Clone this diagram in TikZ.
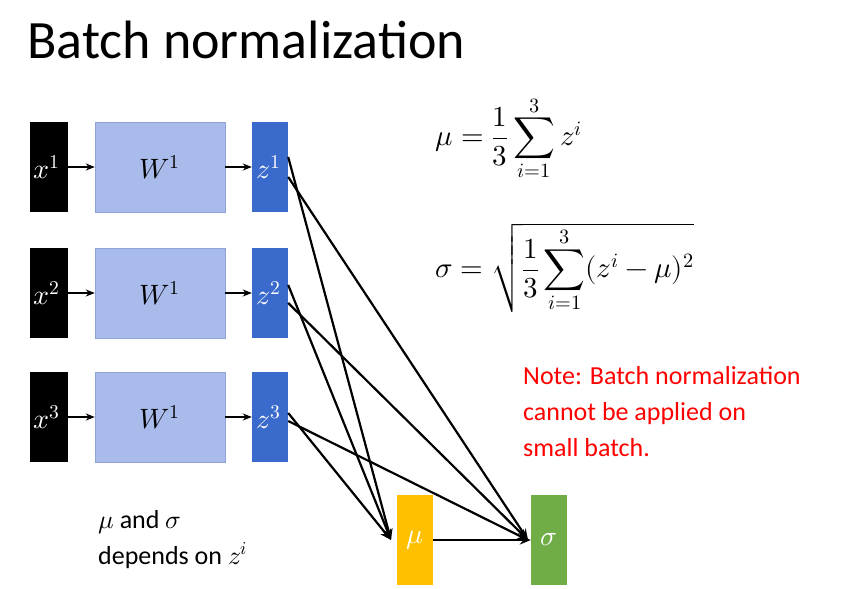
\documentclass[tikz,border=0pt]{standalone}
\usepackage{amsmath}
\usepackage{fontspec}
\setmainfont{Carlito}
\usepackage{unicode-math}
\setmathfont{Latin Modern Math}
\usetikzlibrary{arrows.meta}
\begin{document}
\begin{tikzpicture}[x=1pt,y=-1pt,
  xbox/.style={fill=black,text=white,minimum width=38pt,minimum height=90pt,inner sep=0pt,font=\fontsize{28}{30}\selectfont},
  wbox/.style={fill=wfill,draw=wdraw,minimum width=130pt,minimum height=90pt,font=\fontsize{28}{30}\selectfont},
  zbox/.style={fill=zfill,text=white,minimum width=36pt,minimum height=90pt,inner sep=0pt,font=\fontsize{28}{30}\selectfont},
  arr/.style={-{Stealth[length=9pt,width=7pt]},line width=1.6pt},
  ln/.style={line width=2.2pt,-{Stealth[length=11pt,width=9pt]}}]
\definecolor{wfill}{HTML}{A9BBEA}\definecolor{wdraw}{HTML}{8FA3D8}
\definecolor{zfill}{HTML}{3B6ACD}\definecolor{mfill}{HTML}{FFC000}\definecolor{sfill}{HTML}{70AD47}
\definecolor{notered}{HTML}{FF0000}
\useasboundingbox (0,0) rectangle (855,589);
\fill[white] (0,0) rectangle (855,589);
\node[anchor=west,font=\fontsize{54}{58}\selectfont] (title) at (24,40) {Batch normalization};
\foreach \i/\y in {1/167,2/293,3/417}{
  \node[xbox] (x\i) at (49,\y) {$x^{\i}$\hspace*{4pt}};
  \node[wbox] (w\i) at (160,\y) {$W^1$};
  \node[zbox] (z\i) at (270,\y) {$z^{\i}$\hspace*{2pt}};
  \draw[arr] (x\i) -- (w\i);
  \draw[arr] (w\i) -- (z\i);
}
\node[zbox,fill=mfill] (mu) at (415,540) {$\mu$};
\node[zbox,fill=sfill] (sg) at (549,540) {$\sigma$};
\draw[ln] (mu) -- (sg);
\coordinate (mt) at (391,540); \coordinate (st) at (528,540);
\draw[ln] ([yshift=-10pt]z1.east) -- (st);
\draw[ln] ([yshift=10pt]z1.east) -- (mt);
\draw[ln] ([yshift=-10pt]z2.east) -- (st);
\draw[ln] ([yshift=8pt]z2.east) -- (mt);
\draw[ln] ([yshift=-4pt]z3.east) -- (st);
\draw[ln] ([yshift=4pt]z3.east) -- (mt);
\node[anchor=west,font=\fontsize{29}{31}\selectfont] (f1) at (432,138) {$\mu=\dfrac{1}{3}\displaystyle\sum_{i=1}^{3} z^i$};
\node[anchor=west,font=\fontsize{29}{31}\selectfont] (f2) at (432,268) {$\sigma=\sqrt{\dfrac{1}{3}\displaystyle\sum_{i=1}^{3}(z^i-\mu)^2}$};
\node[anchor=north west,align=left,text=notered,font=\fontsize{26}{36}\selectfont,inner sep=0pt] (note) at (523,366) {Note: Batch normalization\\cannot be applied on\\small batch.};
\node[anchor=north west,align=left,font=\fontsize{26}{36}\selectfont,inner sep=0pt] (dep) at (98,510) {$\mu$ and $\sigma$\\depends on $z^i$};
\end{tikzpicture}
\end{document}
